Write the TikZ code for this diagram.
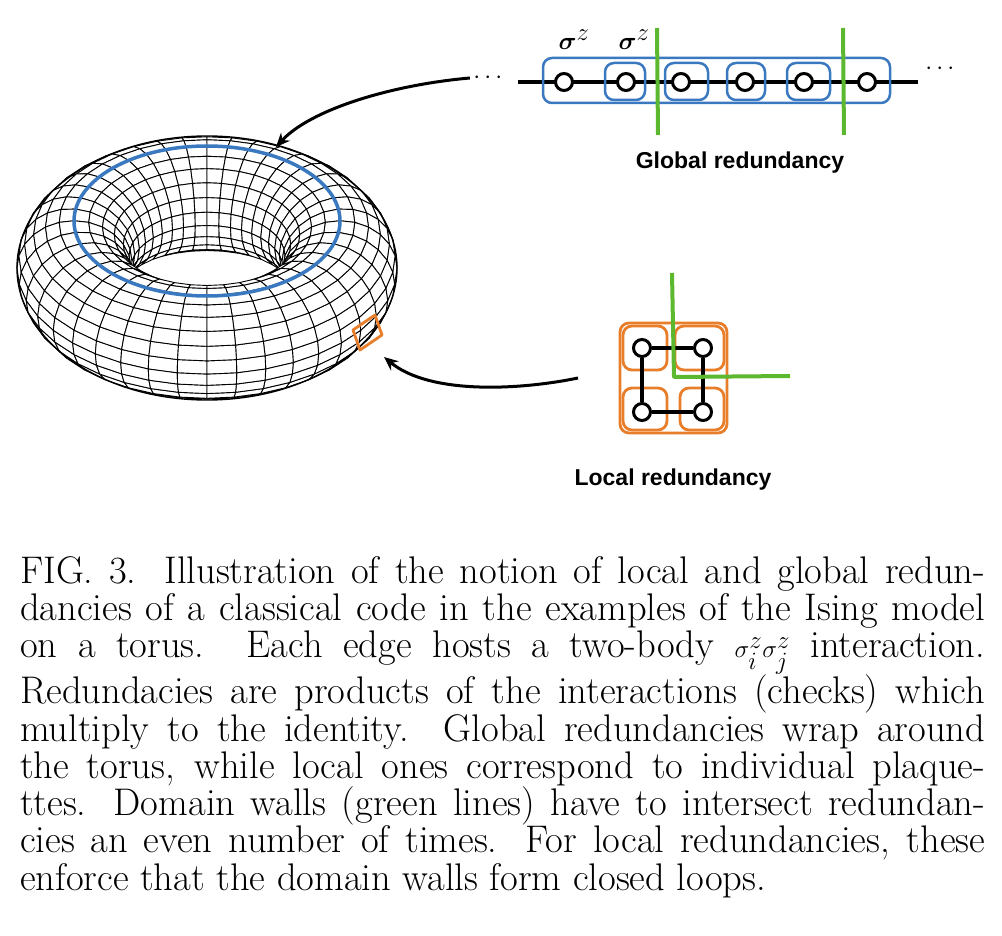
\documentclass[tikz,border=0pt]{standalone}
\usepackage{amsmath}
\usepackage{bm}
\usepackage{fontspec}
\setmainfont{Latin Modern Roman}
\newfontfamily\helv{Liberation Sans}
\usetikzlibrary{arrows.meta}
\definecolor{rblue}{RGB}{58,120,192}
\definecolor{rorange}{RGB}{232,125,42}
\definecolor{rgreen}{RGB}{92,184,46}
\newcommand{\tpt}[2]{({207+(133+57*cos(#2))*cos(#1)},{268-((133+57*cos(#2))*sin(#1)*0.559+57*sin(#2)*0.829)})}
\begin{document}
\begin{tikzpicture}[x=1pt,y=-1pt,
  tgrid/.style={fill=white,draw=black,line width=0.9pt,line join=round},
  spin/.style={circle,draw=black,fill=white,line width=3pt,minimum size=17pt,inner sep=0pt},
  bond/.style={line width=3.5pt},
  bbox/.style={draw=rblue,line width=2.5pt,rounded corners=9pt},
  obox/.style={draw=rorange,line width=2.8pt,rounded corners=9pt},
  wall/.style={draw=rgreen,line width=4pt},
  arr/.style={line width=3pt,-{Stealth[length=14pt,width=12pt]}},
  lbl/.style={font=\helv\bfseries\fontsize{23}{26}\selectfont}]
\useasboundingbox (0,0) rectangle (1002,936);
% torus
\foreach \k in {0,...,19}{
 \foreach \s in {1,-1}{
  \pgfmathsetmacro\ta{\s>0 ? 90+9*\k : 81-9*\k}
  \pgfmathsetmacro\tb{\ta+9}
  \pgfmathsetmacro\tc{\ta+4.5}
  \foreach \j in {0,...,23}{
   \pgfmathsetmacro\pa{15*\j}
   \pgfmathsetmacro\pb{\pa+15}
   \pgfmathsetmacro\pc{\pa+7.5}
   \pgfmathsetmacro\vis{-cos(\pc)*sin(\tc)*0.829+sin(\pc)*0.559}
   \ifdim\vis pt>0pt
    \filldraw[tgrid] \tpt{\ta}{\pa} -- \tpt{\tb}{\pa} -- \tpt{\tb}{\pb} -- \tpt{\ta}{\pb} -- cycle;
   \fi
  }}}
\draw[line width=1.4pt] (207,268) ellipse [x radius=190,y radius=132];
\draw[rblue,line width=3.5pt] (207,221) ellipse [x radius=133,y radius=75];
\draw[rorange,line width=2.8pt,line join=round] (353,330) -- (375,315) -- (382,335) -- (360,350) -- cycle;
\coordinate (sq) at (384,357);
\coordinate (ring) at (276,147);
% global chain
\node[font=\fontsize{30}{30}\selectfont] (d1) at (490,78) {$\cdots$};
\node[font=\fontsize{30}{30}\selectfont] (d2) at (942,69) {$\cdots$};
\draw[bond] (518,82) -- (918,82);
\draw[bbox] (543,58) rectangle (890,103);
\foreach \a/\b in {605/645,665/708,727/765,787/830}{\draw[bbox] (\a,63) rectangle (\b,100);}
\foreach \i/\x in {1/564,2/626,3/681,4/745,5/804,6/867}{\node[spin] (g\i) at (\x,82) {};}
\draw[wall] (657,28) -- (658,135);
\draw[wall] (843,28) -- (844,135);
\node[font=\fontsize{36}{36}\selectfont] (s1) at (574,40) {$\bm{\sigma}^z$};
\node[font=\fontsize{36}{36}\selectfont] (s2) at (634,40) {$\bm{\sigma}^z$};
\node[lbl] (gl) at (740,163) {Global redundancy};
\draw[arr] (d1.west) .. controls (390,85) and (310,110) .. (ring);
% local plaquette
\draw[obox] (620,323) rectangle (727,433);
\draw[obox] (623,326) rectangle (667,370);
\draw[obox] (675,326) rectangle (724,370);
\draw[obox] (623,388) rectangle (667,430);
\draw[obox] (680,388) rectangle (724,430);
\node[spin] (a) at (642,348) {};
\node[spin] (b) at (703,348) {};
\node[spin] (c) at (642,412) {};
\node[spin] (d) at (703,412) {};
\draw[bond] (a) -- (b) -- (d) -- (c) -- (a);
\draw[wall,line join=round] (672,273) -- (674,377) -- (790,376);
\node[lbl] (ll) at (673,480) {Local redundancy};
\draw[arr] (578,378) .. controls (520,390) and (430,395) .. (sq);
% caption
\node[anchor=north west,inner sep=0pt,text width=965pt,align=justify,font=\fontsize{38.5}{37.3}\selectfont] (cap) at (20,556) {FIG.~3. Illustration of the notion of local and global redun-\linebreak dancies of a classical code in the examples of the Ising model\linebreak on a torus. Each edge hosts a two-body $\sigma_i^z\sigma_j^z$ interaction.\linebreak Redundacies are products of the interactions (checks) which\linebreak multiply to the identity. Global redundancies wrap around\linebreak the torus, while local ones correspond to individual plaque-\linebreak ttes. Domain walls (green lines) have to intersect redundan-\linebreak cies an even number of times. For local redundancies, these\linebreak enforce that the domain walls form closed loops.};
\end{tikzpicture}
\end{document}
